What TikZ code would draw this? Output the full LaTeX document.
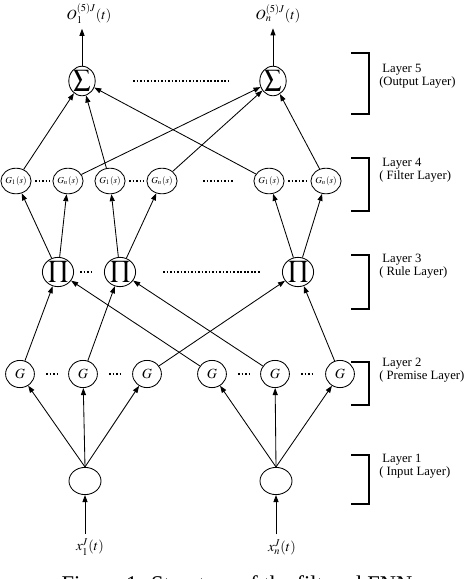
\documentclass[tikz,border=0pt]{standalone}
\usepackage{mathptmx}
\usepackage{fontspec}
\setmainfont{Liberation Serif}
\usetikzlibrary{shapes.geometric, arrows.meta, positioning}

\begin{document}
\begin{tikzpicture}[x=0.025cm, y=-0.025cm,
  neuron/.style={ellipse, draw, line width=0.6pt, inner sep=0pt},
  sumnode/.style={neuron, minimum width=0.66cm, minimum height=0.68cm, font=\large},
  filtnode/.style={neuron, minimum width=0.72cm, minimum height=0.64cm, font=\fontsize{6.5}{7}\selectfont},
  prodnode/.style={neuron, minimum width=0.78cm, minimum height=0.72cm, font=\large},
  premnode/.style={neuron, minimum width=0.72cm, minimum height=0.68cm},
  inpnode/.style={neuron, minimum width=0.8cm, minimum height=0.68cm},
  arr/.style={-{Triangle[length=5pt,width=3.6pt]}, line width=0.6pt},
  dotrow/.style={line width=1.2pt, dash pattern=on 1.2pt off 1.3pt},
  brk/.style={line width=0.9pt},
  lyr/.style={anchor=west, inner sep=0pt, align=left, font=\fontsize{9}{9.5}\selectfont},
]
\useasboundingbox (0,0) rectangle (474,579);

% layer 5
\node[sumnode] (s1) at (82,81)  {$\displaystyle\sum$};
\node[sumnode] (s2) at (273,81) {$\displaystyle\sum$};
\node (o1) at (89,14)  {$O_1^{(5)J}(t)$};
\node (on) at (278,14) {$O_n^{(5)J}(t)$};
\draw[arr] (s1.north) -- (s1.north |- o1.south);
\draw[arr] (s2.north) -- (s2.north |- on.south);
\draw[dotrow] (133,81) -- (228,81);

% layer 4
\node[filtnode] (f1) at (16,181)  {$G_1(s)$};
\node[filtnode] (f2) at (68,181)  {$G_n(s)$};
\node[filtnode] (f3) at (110,181) {$G_1(s)$};
\node[filtnode] (f4) at (162,181) {$G_n(s)$};
\node[filtnode] (f5) at (269,181) {$G_1(s)$};
\node[filtnode] (f6) at (326,181) {$G_n(s)$};
\draw[dotrow] (35,181) -- (50,181);
\draw[dotrow] (129,181) -- (144,181);
\draw[dotrow] (203,181) -- (233,181);
\draw[dotrow] (288,181) -- (307,181);

% layer 3
\node[prodnode] (r1) at (58,272)  {$\displaystyle\prod$};
\node[prodnode] (r2) at (120,272) {$\displaystyle\prod$};
\node[prodnode] (r3) at (298,272) {$\displaystyle\prod$};
\draw[dotrow] (80,272) -- (94,272);
\draw[dotrow] (163,272) -- (260,272);

% layer 2
\node[premnode] (p1) at (20,374)  {$G$};
\node[premnode] (p2) at (83,374)  {$G$};
\node[premnode] (p3) at (147,374) {$G$};
\node[premnode] (p4) at (212,374) {$G$};
\node[premnode] (p5) at (275,374) {$G$};
\node[premnode] (p6) at (340,374) {$G$};
\draw[dotrow] (46,374) -- (57,374);
\draw[dotrow] (109,374) -- (120,374);
\draw[dotrow] (238,374) -- (249,374);
\draw[dotrow] (301,374) -- (313,374);

% layer 1
\node[inpnode] (i1) at (85,481)  {};
\node[inpnode] (i2) at (276,481) {};
\node (x1) at (90,547)  {$x_1^J(t)$};
\node (xn) at (282,547) {$x_n^J(t)$};
\draw[arr] (x1.north -| i1) -- (i1);
\draw[arr] (xn.north -| i2) -- (i2);

% layer 1 -> 2
\draw[arr] (i1.north) -- (p1);
\draw[arr] (i1.north) -- (p2);
\draw[arr] (i1.north) -- (p3);
\draw[arr] (i2.north) -- (p4);
\draw[arr] (i2.north) -- (p5);
\draw[arr] (i2.north) -- (p6);

% layer 2 -> 3
\draw[arr] (p1) -- (r1);
\draw[arr] (p2) -- (r2);
\draw[arr] (p3) -- (r3);
\draw[arr] (p4) -- (r1);
\draw[arr] (p5) -- (r2);
\draw[arr] (p6) -- (r3);

% layer 3 -> 4
\draw[arr] (r1) -- (f1);
\draw[arr] (r1) -- (f2);
\draw[arr] (r2) -- (f3);
\draw[arr] (r2) -- (f4);
\draw[arr] (r3) -- (f5);
\draw[arr] (r3) -- (f6);

% layer 4 -> 5
\draw[arr] (f1) -- (s1);
\draw[arr] (f2) -- (s2);
\draw[arr] (f3) -- (s1);
\draw[arr] (f4) -- (s2);
\draw[arr] (f5) -- (s1);
\draw[arr] (f6) -- (s2);

% brackets and layer names
\draw[brk] (351,53) -- (369,53) -- (369,114) -- (351,114);
\draw[brk] (351,158) -- (369,158) -- (369,211) -- (351,211);
\draw[brk] (351,255) -- (369,255) -- (369,309) -- (351,309);
\draw[brk] (351,362) -- (369,362) -- (369,405) -- (351,405);
\draw[brk] (351,455) -- (369,455) -- (369,504) -- (351,504);
\node[lyr] (l5) at (379,76)  {\ Layer 5\\(Output Layer)};
\node[lyr] (l4) at (379,170) {\ Layer 4\\( Filter Layer)};
\node[lyr] (l3) at (379,266) {\ Layer 3\\( Rule Layer)};
\node[lyr] (l2) at (379,370) {\ Layer 2\\( Premise Layer)};
\node[lyr] (l1) at (379,466) {\ Layer 1\\( Input Layer)};

% caption, cut by the page edge
\node[anchor=base, font=\fontsize{16}{19}\selectfont] (cap) at (237,591) {Figure 1: Structure of the filtered FNN};
\end{tikzpicture}
\end{document}
